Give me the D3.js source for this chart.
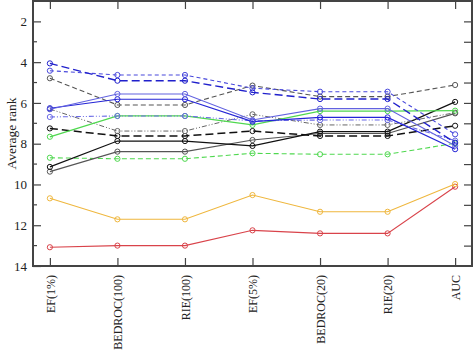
<!DOCTYPE html>
<html>
<head>
<meta charset="utf-8">
<script src="https://cdn.jsdelivr.net/npm/d3@7"></script>
<style>
  body { margin: 0; background: #fff; }
  text { font-family: "Liberation Serif", "Times New Roman", serif; fill: #222; }
</style>
</head>
<body>
<div id="chart"></div>
<script>
// categories on the x axis
let metrics = ["EF(1%)", "BEDROC(100)", "RIE(100)", "EF(5%)", "BEDROC(20)", "RIE(20)", "AUC"];
let yTicks = [2, 4, 6, 8, 10, 12, 14];

// average rank of every method, one value per metric
let blueLongDash  = [4.06, 4.91, 4.91, 5.48, 5.81, 5.81, 7.95];
let blueShortDash = [4.42, 4.63, 4.63, 5.28, 5.45, 5.45, 7.54];
let blueSolidA    = [6.31, 5.56, 5.56, 6.84, 6.28, 6.28, 8.10];
let blueSolidB    = [6.26, 5.82, 5.82, 6.92, 6.71, 6.71, 8.27];
let blueDashDot   = [6.69, 6.64, 6.64, 6.88, 6.84, 6.84, 7.85];
let grayDash      = [4.79, 6.10, 6.10, 5.15, 5.69, 5.69, 5.12];
let grayDotted    = [6.30, 7.38, 7.38, 6.56, 7.08, 7.08, 6.48];
let blackLongDash = [7.25, 7.62, 7.62, 7.38, 7.62, 7.62, 7.12];
let blackSolid    = [9.14, 7.87, 7.87, 8.11, 7.41, 7.41, 5.95];
let graySolid     = [9.37, 8.39, 8.39, 7.82, 7.50, 7.50, 6.51];
let greenSolid    = [7.66, 6.64, 6.64, 7.08, 6.40, 6.40, 6.38];
let greenDash     = [8.69, 8.74, 8.74, 8.47, 8.52, 8.52, 7.98];
let orangeSolid   = [10.68, 11.71, 11.71, 10.52, 11.34, 11.34, 9.98];
let redSolid      = [13.08, 13.00, 13.00, 12.25, 12.40, 12.40, 10.11];

let series = [
    {v: redSolid,      color: "#d9434a", dash: null,            w: 1.1},
    {v: orangeSolid,   color: "#efb73e", dash: null,            w: 1.1},
    {v: greenDash,     color: "#4fd84f", dash: "5,3",           w: 1.1},
    {v: graySolid,     color: "#555555", dash: null,            w: 1.2},
    {v: blackSolid,    color: "#111111", dash: null,            w: 1.2},
    {v: blackLongDash, color: "#111111", dash: "8,4",           w: 1.5},
    {v: grayDotted,    color: "#666666", dash: "5,2,1,2,1,2",   w: 1.0},
    {v: grayDash,      color: "#555555", dash: "5,3",           w: 1.1},
    {v: greenSolid,    color: "#4fd84f", dash: null,            w: 1.3},
    {v: blueDashDot,   color: "#6b6be6", dash: "5,2,1,2,1,2",   w: 1.1},
    {v: blueSolidB,    color: "#2424d6", dash: null,            w: 1.2},
    {v: blueSolidA,    color: "#6262e0", dash: null,            w: 1.1},
    {v: blueShortDash, color: "#4848dc", dash: "4,3",           w: 1.1},
    {v: blueLongDash,  color: "#2020cc", dash: "8,4",           w: 1.4}
];

let width = 474, height = 353;
let plot = {left: 33, right: 472, top: 1, bottom: 266};

let svg = d3.select("#chart").append("svg")
    .attr("width", width)
    .attr("height", height);

let x = d3.scaleLinear()
    .domain([-0.25, metrics.length - 0.75])
    .range([plot.left, plot.right]);

let y = d3.scaleLinear()
    .domain([1, 14])
    .range([plot.top, plot.bottom]);

let line = d3.line()
    .x((d, i) => x(i))
    .y(d => y(d));

// lines + open circle markers
series.forEach(function(s) {
    let g = svg.append("g");
    g.append("path")
        .datum(s.v)
        .attr("d", line)
        .attr("fill", "none")
        .attr("stroke", s.color)
        .attr("stroke-width", s.w)
        .attr("stroke-dasharray", s.dash);
    g.selectAll("circle")
        .data(s.v)
        .join("circle")
        .attr("cx", (d, i) => x(i))
        .attr("cy", d => y(d))
        .attr("r", 2.6)
        .attr("fill", "none")
        .attr("stroke", s.color)
        .attr("stroke-width", 1);
});

// axes, ticks drawn inward
let axisColor = "#444";

let leftAxis = d3.axisLeft(y).tickValues(yTicks).tickSizeInner(-8).tickSizeOuter(0);
let gl = svg.append("g")
    .attr("transform", "translate(" + plot.left + ",0)")
    .call(leftAxis);
gl.select(".domain").remove();
gl.selectAll("line").attr("stroke", axisColor).attr("stroke-width", 1.2);
gl.selectAll("text")
    .style("font-size", "13px")
    .attr("x", -6);

// minor ticks on the left
svg.append("g").selectAll("line")
    .data(d3.range(3, 14, 2))
    .join("line")
    .attr("x1", plot.left).attr("x2", plot.left + 4)
    .attr("y1", d => y(d)).attr("y2", d => y(d))
    .attr("stroke", axisColor).attr("stroke-width", 1.2);

// right side ticks
let rightAxis = d3.axisRight(y).tickValues(d3.range(2, 14)).tickSizeInner(-8).tickSizeOuter(0).tickFormat("");
let gr = svg.append("g")
    .attr("transform", "translate(" + plot.right + ",0)")
    .call(rightAxis);
gr.select(".domain").remove();
gr.selectAll("line").attr("stroke", axisColor).attr("stroke-width", 1.2);

let bottomAxis = d3.axisBottom(x).tickValues(d3.range(metrics.length))
    .tickSizeInner(-8).tickSizeOuter(0).tickFormat(i => metrics[i]);
let gb = svg.append("g")
    .attr("transform", "translate(0," + plot.bottom + ")")
    .call(bottomAxis);
gb.select(".domain").remove();
gb.selectAll("line").attr("stroke", axisColor).attr("stroke-width", 1.2);
gb.selectAll("text")
    .style("font-size", "12px")
    .attr("text-anchor", "end")
    .attr("dy", "0.35em")
    .attr("transform", "translate(0,9) rotate(-90)")
    .attr("x", 0)
    .attr("y", 0);

let topAxis = d3.axisTop(x).tickValues(d3.range(metrics.length))
    .tickSizeInner(-8).tickSizeOuter(0).tickFormat("");
let gt = svg.append("g")
    .attr("transform", "translate(0," + plot.top + ")")
    .call(topAxis);
gt.select(".domain").remove();
gt.selectAll("line").attr("stroke", axisColor).attr("stroke-width", 1.2);

// frame
svg.append("rect")
    .attr("x", plot.left)
    .attr("y", plot.top)
    .attr("width", plot.right - plot.left)
    .attr("height", plot.bottom - plot.top)
    .attr("fill", "none")
    .attr("stroke", axisColor)
    .attr("stroke-width", 2);

svg.append("text")
    .attr("transform", "translate(11," + ((plot.top + plot.bottom) / 2) + ") rotate(-90)")
    .attr("text-anchor", "middle")
    .attr("dy", "0.35em")
    .style("font-size", "13.5px")
    .text("Average rank");
</script>
</body>
</html>
